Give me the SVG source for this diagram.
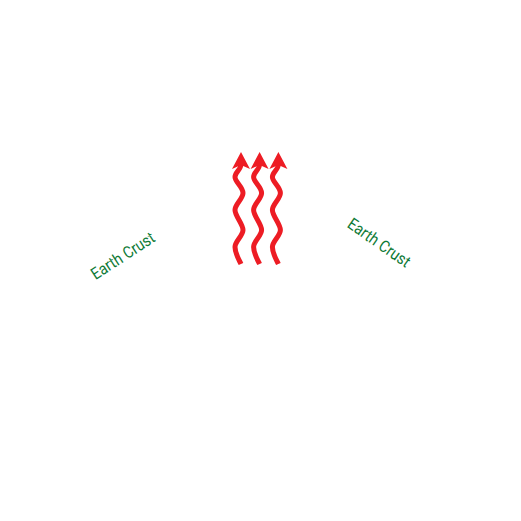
<svg xmlns="http://www.w3.org/2000/svg" width="521" height="521" viewBox="0 0 521 521">
<defs>
<style>
.wave{fill:none;stroke:#ed1c24;stroke-width:5;stroke-linecap:butt}
.head{fill:#ed1c24}
.lbl{font-family:Roboto,"Liberation Sans",sans-serif;font-size:16.5px;fill:#0e7a36;text-anchor:middle;dominant-baseline:central}
</style>
<g id="w">
<path class="wave" d="M241,264 C238,258 235,253 235,247 S243,236 243,230 S235,216 235,210 S243,199 243,193 S235,182 235,177 S241,170 241,164"/>
<polygon class="head" points="241,152 232,169 241,165 250,169"/>
</g>
</defs>
<rect width="521" height="521" fill="#fff"/>
<g id="heat">
<use href="#w" x="0"/>
<use href="#w" x="18.6"/>
<use href="#w" x="37.4"/>
</g>
<g id="crust-left"><text class="lbl" transform="translate(123,256) rotate(-33) scale(0.88,1)">Earth Crust</text></g>
<g id="crust-right"><text class="lbl" transform="translate(379,243) rotate(35) scale(0.88,1)">Earth Crust</text></g>
</svg>
